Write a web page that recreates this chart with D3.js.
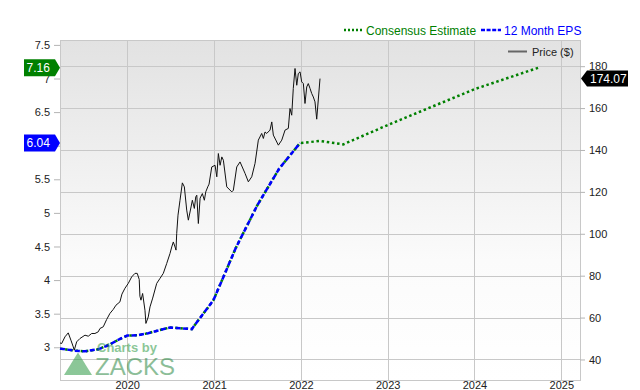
<!DOCTYPE html>
<html>
<head>
<meta charset="utf-8">
<script src="https://cdn.jsdelivr.net/npm/d3@7"></script>
<style>
	body { margin: 0; background: #fff; }
	svg text { font-family: "Liberation Sans", Arial, sans-serif; }
</style>
</head>
<body>
<svg id="chart"></svg>
<script>
// dates are decimal years
var priceSeries = [
	[2019.225, 47.9], [2019.244, 47.6], [2019.282, 50.8], [2019.320, 52.7], [2019.351, 49.2],
	[2019.378, 46.0], [2019.389, 44.4], [2019.417, 48.4], [2019.455, 50.0], [2019.513, 51.6],
	[2019.551, 51.1], [2019.590, 52.4], [2019.628, 52.4], [2019.666, 53.2], [2019.686, 54.8],
	[2019.724, 55.6], [2019.763, 59.1], [2019.801, 62.0], [2019.839, 63.9], [2019.870, 65.9],
	[2019.916, 67.5], [2019.939, 71.2], [2019.974, 74.0], [2020.012, 76.3], [2020.051, 79.4],
	[2020.089, 81.1], [2020.115, 81.1], [2020.138, 78.2], [2020.146, 70.2], [2020.158, 68.3],
	[2020.177, 71.5], [2020.204, 63.5], [2020.215, 57.2], [2020.242, 60.3], [2020.262, 65.1],
	[2020.293, 69.3], [2020.339, 76.3], [2020.377, 78.7], [2020.415, 81.1], [2020.454, 85.8],
	[2020.492, 90.6], [2020.512, 93.7], [2020.530, 96.1], [2020.550, 93.7], [2020.561, 92.2],
	[2020.569, 100.1], [2020.584, 108.9], [2020.607, 116.0], [2020.634, 124.3], [2020.657, 122.4],
	[2020.684, 111.3], [2020.703, 106.5], [2020.734, 112.8], [2020.749, 116.0], [2020.772, 112.1],
	[2020.788, 117.6], [2020.800, 118.4], [2020.818, 104.9], [2020.838, 117.0], [2020.864, 119.2],
	[2020.887, 116.0], [2020.903, 120.0], [2020.926, 122.4], [2020.941, 123.7], [2020.972, 131.9],
	[2021.010, 132.7], [2021.030, 127.2], [2021.048, 138.3], [2021.068, 132.7], [2021.088, 136.7],
	[2021.106, 135.1], [2021.145, 122.4], [2021.203, 120.0], [2021.221, 120.8], [2021.260, 131.9],
	[2021.298, 134.3], [2021.356, 128.8], [2021.394, 124.8], [2021.433, 127.2], [2021.471, 133.6],
	[2021.509, 144.7], [2021.548, 147.9], [2021.567, 145.5], [2021.586, 148.6], [2021.606, 147.9],
	[2021.644, 149.5], [2021.664, 153.4], [2021.682, 147.1], [2021.740, 142.3], [2021.779, 144.7],
	[2021.817, 149.5], [2021.855, 150.3], [2021.874, 159.8], [2021.894, 156.6], [2021.912, 169.4],
	[2021.932, 178.9], [2021.952, 170.9], [2021.970, 176.5], [2021.990, 177.3], [2022.009, 172.5],
	[2022.028, 171.7], [2022.047, 162.2], [2022.067, 170.1], [2022.085, 171.7], [2022.105, 169.4],
	[2022.124, 167.0], [2022.143, 165.3], [2022.162, 163.0], [2022.182, 154.7], [2022.220, 174.07]
];

var epsSeries = [
	[2019.225, 2.98], [2019.398, 2.95], [2019.513, 2.94], [2019.666, 2.97], [2019.781, 3.03],
	[2019.896, 3.11], [2020.000, 3.175], [2020.127, 3.18], [2020.242, 3.21], [2020.357, 3.25],
	[2020.492, 3.295], [2020.742, 3.27], [2020.991, 3.70], [2021.250, 4.48], [2021.500, 5.12],
	[2021.750, 5.66], [2021.990, 6.04]
];

var consensusSeries = [
	[2021.990, 6.04], [2022.220, 6.07], [2022.488, 6.02], [2022.988, 6.30], [2023.998, 6.84],
	[2024.735, 7.16]
];

var epsTicks = [3, 3.5, 4, 4.5, 5, 5.5, 6, 6.5, 7, 7.5];
var priceTicks = [40, 60, 80, 100, 120, 140, 160, 180];
var legendLabels = ["Consensus Estimate", "12 Month EPS"];

var width = 640, height = 390;
var plot = { left: 60, right: 580, top: 40, bottom: 380 };

function yearToDate(y) {
	var yr = Math.floor(y);
	var start = Date.UTC(yr, 0, 1), end = Date.UTC(yr + 1, 0, 1);
	return new Date(start + (y - yr) * (end - start));
}

var svg = d3.select("#chart")
	.attr("width", width)
	.attr("height", height);

var x = d3.scaleUtc()
	.domain([yearToDate(2019.225), yearToDate(2025.215)])
	.range([plot.left, plot.right]);
var yEps = d3.scaleLinear()
	.domain([2.513, 7.573])
	.range([plot.bottom, plot.top]);
var yPrice = d3.scaleLinear()
	.domain([30.2, 192.5])
	.range([plot.bottom, plot.top]);

var grad = svg.append("defs").append("linearGradient")
	.attr("id", "bg")
	.attr("x1", 0).attr("y1", 0).attr("x2", 0).attr("y2", 1);
grad.append("stop").attr("offset", "0%").attr("stop-color", "#e2e2e2");
grad.append("stop").attr("offset", "65%").attr("stop-color", "#fbfbfb");
grad.append("stop").attr("offset", "100%").attr("stop-color", "#ffffff");

svg.append("rect")
	.attr("x", plot.left)
	.attr("y", plot.top)
	.attr("width", plot.right - plot.left)
	.attr("height", plot.bottom - plot.top)
	.attr("fill", "url(#bg)");

// grid
var years = x.ticks(d3.utcYear.every(1));
svg.append("g").selectAll("line")
	.data(years)
	.join("line")
	.attr("x1", function(d) { return Math.round(x(d)) + 0.5; })
	.attr("x2", function(d) { return Math.round(x(d)) + 0.5; })
	.attr("y1", plot.top)
	.attr("y2", plot.bottom)
	.attr("stroke", "#c8c8c8");
svg.append("g").selectAll("line")
	.data(priceTicks)
	.join("line")
	.attr("x1", plot.left)
	.attr("x2", plot.right)
	.attr("y1", function(d) { return Math.round(yPrice(d)) + 0.5; })
	.attr("y2", function(d) { return Math.round(yPrice(d)) + 0.5; })
	.attr("stroke", "#c8c8c8");

svg.append("rect")
	.attr("x", plot.left + 0.5)
	.attr("y", plot.top + 0.5)
	.attr("width", plot.right - plot.left)
	.attr("height", plot.bottom - plot.top)
	.attr("fill", "none")
	.attr("stroke", "#c8c8c8");

// axes
var leftAxis = svg.append("g")
	.attr("transform", "translate(" + plot.left + ",0)")
	.call(d3.axisLeft(yEps).tickValues(epsTicks).tickSize(6).tickPadding(4).tickFormat(d3.format("")));
var rightAxis = svg.append("g")
	.attr("transform", "translate(" + plot.right + ",0)")
	.call(d3.axisRight(yPrice).tickValues(priceTicks).tickSize(5).tickPadding(4));
var bottomAxis = svg.append("g")
	.attr("transform", "translate(0," + plot.bottom + ")")
	.call(d3.axisBottom(x).ticks(d3.utcYear.every(1)).tickSize(0).tickPadding(1).tickFormat(d3.utcFormat("%Y")));

[leftAxis, rightAxis, bottomAxis].forEach(function(a) {
	a.select(".domain").remove();
	a.selectAll(".tick line").attr("stroke", "#b4b4b4");
	a.selectAll("text").attr("font-size", 11).attr("fill", "#222").attr("font-family", null);
});

// lines
var line = function(ys) {
	return d3.line()
		.x(function(d) { return x(yearToDate(d[0])); })
		.y(function(d) { return ys(d[1]); });
};

svg.append("path")
	.datum(priceSeries)
	.attr("d", line(yPrice))
	.attr("fill", "none")
	.attr("stroke", "#111")
	.attr("stroke-width", 1);

svg.append("path")
	.datum(epsSeries.concat(consensusSeries.slice(1)))
	.attr("d", line(yEps))
	.attr("fill", "none")
	.attr("stroke", "#008000")
	.attr("stroke-width", 2.5)
	.attr("stroke-dasharray", "2.5,2.7");

svg.append("path")
	.datum(epsSeries)
	.attr("d", line(yEps))
	.attr("fill", "none")
	.attr("stroke", "#0000ff")
	.attr("stroke-width", 2.5)
	.attr("stroke-dasharray", "5,2.5");

// watermark
var mark = svg.append("g").attr("opacity", 0.55);
mark.append("polygon")
	.attr("points", "64,375 78,352.5 92,375")
	.attr("fill", "#2e9a44");
mark.append("text")
	.attr("x", 97).attr("y", 352)
	.attr("font-size", 13).attr("font-weight", "bold")
	.attr("fill", "#2e9a44")
	.text("Charts by");
mark.append("text")
	.attr("x", 95).attr("y", 375)
	.attr("font-size", 24)
	.attr("fill", "#2e8a44")
	.text("ZACKS");

// legend
var legend = svg.append("g");
legend.append("line")
	.attr("x1", 344).attr("x2", 362).attr("y1", 30).attr("y2", 30)
	.attr("stroke", "#008000").attr("stroke-width", 2.5).attr("stroke-dasharray", "2,2");
legend.append("text")
	.attr("x", 366).attr("y", 34.5)
	.attr("font-size", 12).attr("fill", "#008000")
	.text(legendLabels[0]);
legend.append("line")
	.attr("x1", 481).attr("x2", 501).attr("y1", 30).attr("y2", 30)
	.attr("stroke", "#0000ff").attr("stroke-width", 2.5).attr("stroke-dasharray", "4,1.6");
legend.append("text")
	.attr("x", 504).attr("y", 34.5)
	.attr("font-size", 12).attr("fill", "#0000ff")
	.text(legendLabels[1]);
legend.append("line")
	.attr("x1", 508).attr("x2", 527).attr("y1", 51.5).attr("y2", 51.5)
	.attr("stroke", "#666").attr("stroke-width", 2);
legend.append("text")
	.attr("x", 532).attr("y", 55.5)
	.attr("font-size", 11).attr("fill", "#222")
	.text("Price ($)");

// value badges
function leftBadge(val, color) {
	var yy = yEps(val);
	svg.append("polygon")
		.attr("points", [[24, yy - 8.5], [55, yy - 8.5], [60, yy], [55, yy + 8.5], [24, yy + 8.5]].join(" "))
		.attr("fill", color);
	svg.append("text")
		.attr("x", 26.5).attr("y", yy + 4)
		.attr("font-size", 12).attr("fill", "#fff")
		.text(d3.format(".2f")(val));
}
leftBadge(consensusSeries[consensusSeries.length - 1][1], "#008000");
leftBadge(epsSeries[epsSeries.length - 1][1], "#0000ff");

var lastPrice = priceSeries[priceSeries.length - 1][1];
var py = yPrice(lastPrice);
svg.append("polygon")
	.attr("points", [[581, py], [587, py - 8], [628, py - 8], [628, py + 8], [587, py + 8]].join(" "))
	.attr("fill", "#000");
svg.append("text")
	.attr("x", 590).attr("y", py + 4)
	.attr("font-size", 12).attr("fill", "#fff")
	.text(d3.format(".2f")(lastPrice));
</script>
</body>
</html>
